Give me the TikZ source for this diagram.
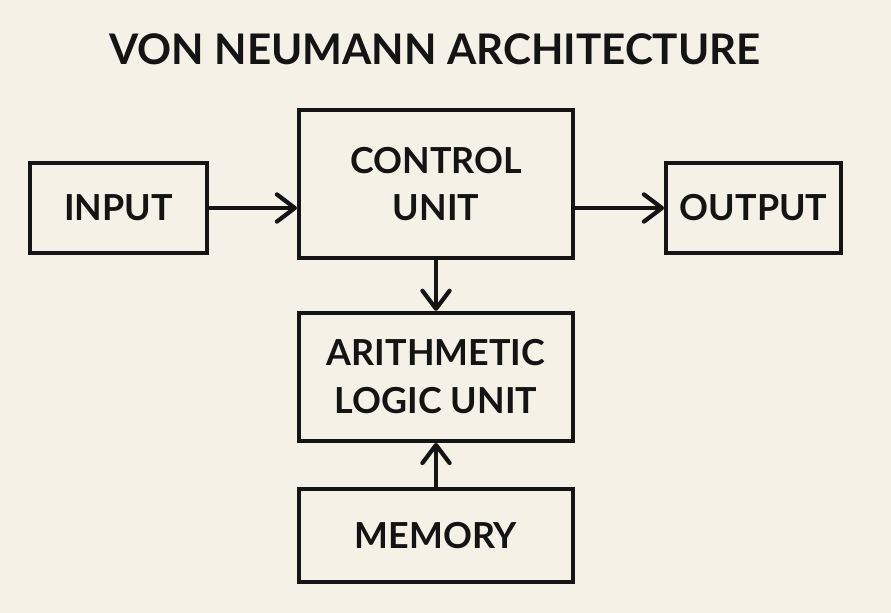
\documentclass[tikz,border=0pt]{standalone}
\usepackage{fontspec}
\setmainfont{Lato}
\usetikzlibrary{arrows.meta,positioning}
\definecolor{paper}{HTML}{F5F1E6}
\definecolor{ink}{HTML}{141414}

\begin{document}
\begin{tikzpicture}[
    box/.style={draw=ink, line width=2.9pt, align=center, text=ink, font=\fontsize{25.5}{34}\selectfont\bfseries},
    arr/.style={-{Straight Barb[length=0.45cm, width=0.68cm, round]}, line width=3pt, ink}
  ]
    \fill[paper] (0,0) rectangle (22.275,-15.325);
    \useasboundingbox (0,0) rectangle (22.275,-15.325);
    \node[text=ink, font=\fontsize{30}{36}\selectfont\bfseries] (title) at (10.875,-1.22) {VON NEUMANN ARCHITECTURE};
    \node[box, minimum width=6.85cm, minimum height=3.7cm] (cu) at (10.9,-4.6) {CONTROL\\UNIT};
    \node[box, minimum width=4.425cm, minimum height=2.25cm] (in) at (2.96,-5.2) {INPUT};
    \node[box, minimum width=4.375cm, minimum height=2.25cm] (out) at (18.84,-5.2) {OUTPUT};
    \node[box, minimum width=6.85cm, minimum height=3.2cm, below=1.27cm of cu] (alu) {ARITHMETIC\\LOGIC UNIT};
    \node[box, minimum width=6.85cm, minimum height=2.325cm, below=1.1cm of alu] (mem) {MEMORY};
    \draw[arr] (in.east) -- (in.east -| cu.west);
    \draw[arr] (out.west -| cu.east) -- (out.west);
    \draw[arr] (cu) -- (alu);
    \draw[arr] (mem) -- (alu);
  \end{tikzpicture}
\end{document}
